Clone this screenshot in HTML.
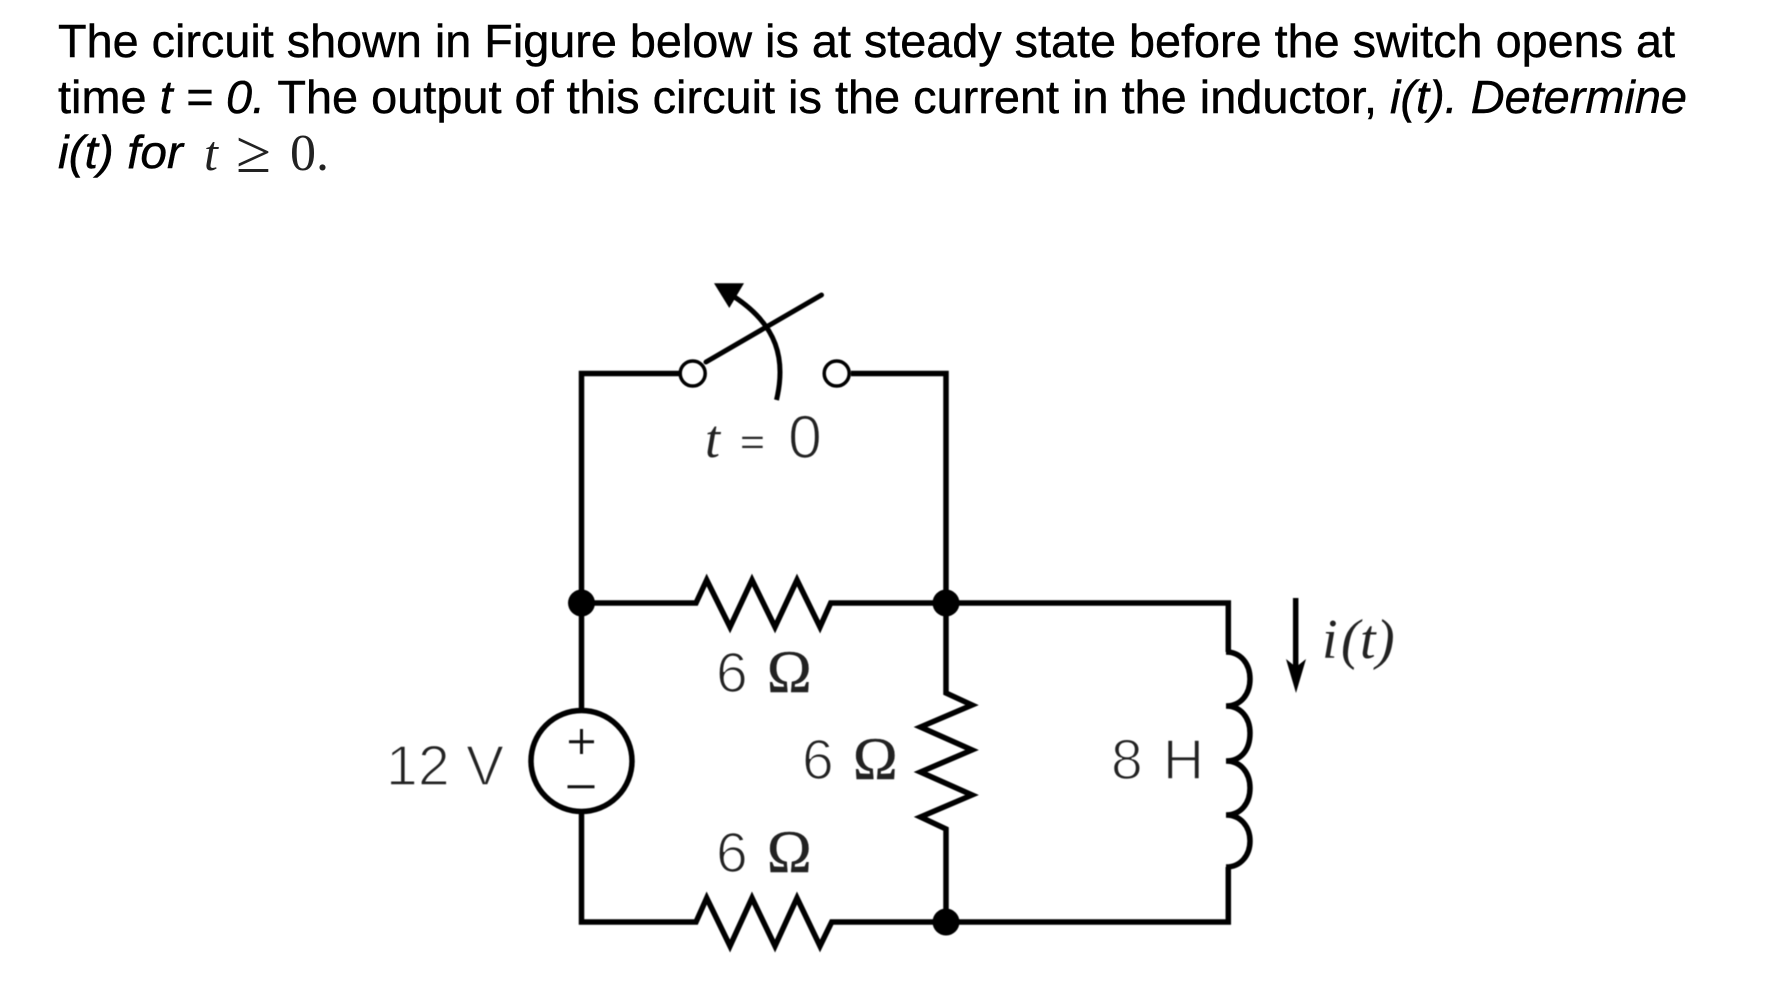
<!DOCTYPE html>
<html>
<head>
<meta charset="utf-8">
<style>
html,body{margin:0;padding:0;background:#fff;}
svg{display:block;}
.q{font-family:"Liberation Sans",sans-serif;font-size:46px;fill:#000;stroke:#000;stroke-width:0.45px;}
.i{font-style:italic;}
.l{font-family:"Liberation Sans",sans-serif;font-size:57px;fill:#222;stroke:#fff;stroke-width:1.5px;paint-order:fill stroke;}
.s{font-family:"Liberation Serif",serif;fill:#222;}
.o{stroke:#222;stroke-width:0.5px;}
.w{fill:none;stroke:#000;stroke-width:5.5;stroke-linejoin:miter;stroke-linecap:butt;}
.z{filter:blur(0.45px);}
</style>
</head>
<body>
<svg width="1780" height="998" viewBox="0 0 1780 998" xmlns="http://www.w3.org/2000/svg">
<rect width="1780" height="998" fill="#fff"/>
<text class="q" x="58" y="57" textLength="1617" lengthAdjust="spacingAndGlyphs">The circuit shown in Figure below is at steady state before the switch opens at</text>
<text class="q" x="58" y="113" textLength="1629" lengthAdjust="spacingAndGlyphs">time <tspan class="i">t = 0.</tspan> The output of this circuit is the current in the inductor, <tspan class="i">i(t). Determine</tspan></text>
<text class="q i" x="58" y="168" textLength="125" lengthAdjust="spacingAndGlyphs">i(t) for</text>
<text class="s" x="204" y="170" font-size="50" font-style="italic" fill="#222">t</text>
<text class="s" x="236" y="172" font-size="60" fill="#222" textLength="35" lengthAdjust="spacingAndGlyphs">≥</text>
<text class="s" x="290" y="170" font-size="52" fill="#222">0.</text>

<g class="z">
<path class="w" d="M581.5 603V373.5H680M851 373.5H946V603"/>
<path class="w" d="M581.5 603H696L706.7 580L730 627L752 580L775 627L797 580L820 627L830.7 603H946"/>
<path class="w" d="M581.5 708V603M581.5 814V922H696L706.7 898L730 946L752 898L775 946L797 898L820 946L831.7 922H1228.3V867"/>
<path class="w" d="M946 603H1228.3V652M946 603V693L972 705L920.5 727L972 750L920.5 772L972 795L920.5 817L946 829V922"/>
<path class="w" d="M1226 652C1241 652 1250 664 1250 679C1250 694 1241 706 1226 706C1241 706 1250 718 1250 733C1250 750 1241 761 1226 761C1241 761 1250 773 1250 788C1250 803 1241 815 1226 815C1241 815 1250 827 1250 841C1250 855 1241 867 1226 867"/>
<circle cx="581.5" cy="603" r="13.5" fill="#000"/>
<circle cx="946" cy="603" r="13.5" fill="#000"/>
<circle cx="946" cy="922" r="13.5" fill="#000"/>
<circle cx="581.5" cy="761" r="50.5" fill="#fff" stroke="#000" stroke-width="5.5"/>
<path d="M581.5 729V754M569 741.7H594M567.5 786.7H594.5" fill="none" stroke="#111" stroke-width="3"/>
<path d="M706 362L821.5 295" fill="none" stroke="#000" stroke-width="5" stroke-linecap="round"/>
<circle cx="692.7" cy="373.5" r="12.5" fill="#fff" stroke="#000" stroke-width="3.5"/>
<circle cx="836.7" cy="373.5" r="12.5" fill="#fff" stroke="#000" stroke-width="3.5"/>
<path d="M776.5 400C786 360 778 325 733 296" fill="none" stroke="#000" stroke-width="5"/>
<path d="M714 283.3H744L729.3 308Z" fill="#000"/>
<path d="M1295.7 598V668" stroke="#000" stroke-width="5.5" fill="none"/>
<path d="M1286 659L1296 667L1306 659L1296 693Z" fill="#000"/>

<text class="s" x="705" y="457" font-size="54" font-style="italic">t</text>
<text class="s" x="740" y="457" font-size="44">=</text>
<text class="l" x="788" y="458" font-size="62" style="font-size:61px">0</text>
<text class="l" x="716" y="692">6</text><text class="s o" x="767" y="692" font-size="60">Ω</text>
<text class="l" x="802" y="779">6</text><text class="s o" x="853" y="779" font-size="60">Ω</text>
<text class="l" x="716" y="872">6</text><text class="s o" x="767" y="872" font-size="60">Ω</text>
<text class="l" x="386" y="785" textLength="118" lengthAdjust="spacing">12 V</text>
<text class="l" x="1111" y="779" textLength="93" lengthAdjust="spacing">8 H</text>
<text class="s" font-style="italic" font-size="56" x="1322 1341 1360 1376" y="658">i(t)</text>
</g>
</svg>
</body>
</html>
